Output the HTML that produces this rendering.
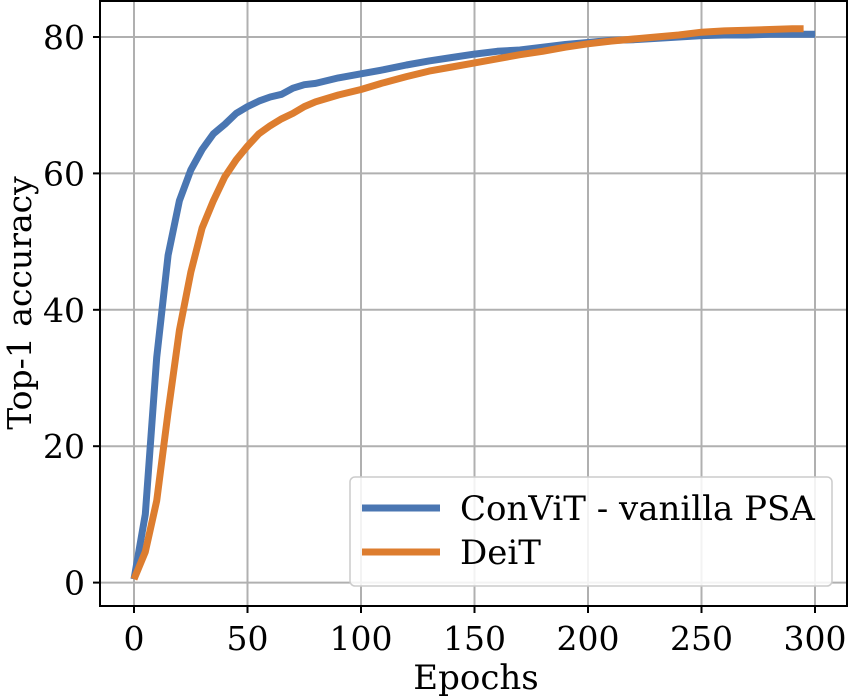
<!DOCTYPE html>
<html><head><meta charset="utf-8"><style>
html,body{margin:0;padding:0;background:#fff;}
svg{display:block;font-family:"DejaVu Serif","Liberation Serif",serif;}
</style></head><body>
<svg id="chart" width="850" height="696" viewBox="0 0 850 696">
<g id="grid"></g>
<g id="series"></g>
<rect x="100" y="1" width="747" height="605" fill="none" stroke="#000" stroke-width="2"/>
<g id="ticks"></g>
<text x="476" y="689" font-size="34" text-anchor="middle">Epochs</text>
<text transform="translate(31,303) rotate(-90)" font-size="33" text-anchor="middle">Top-1 accuracy</text>
<g>
<rect x="350" y="477" width="482" height="109" rx="5" fill="#fff" fill-opacity="0.85" stroke="#ccc" stroke-width="1.5"/>
<line x1="362" y1="508" x2="440" y2="508" stroke="#4a76b2" stroke-width="7"/>
<text x="460" y="520" font-size="34">ConViT - vanilla PSA</text>
<line x1="362" y1="552" x2="440" y2="552" stroke="#dd7d2f" stroke-width="7"/>
<text x="460" y="564" font-size="34">DeiT</text>
</g>
</svg>
<script>
const convitEpochs=[0,5,10,15,20,25,30,35,40,45,50,55,60,65,70,75,80,90,100,110,120,130,140,150,160,170,180,190,200,210,220,230,240,250,260,270,280,290,300];
const convitAcc=[0.5,10,33,48,56,60.5,63.5,65.8,67.2,68.8,69.8,70.6,71.2,71.6,72.5,73,73.2,74,74.6,75.2,75.9,76.5,77,77.5,77.9,78.1,78.5,78.9,79.2,79.5,79.6,79.8,80,80.2,80.3,80.3,80.4,80.4,80.4];
const deitEpochs=[0,5,10,15,20,25,30,35,40,45,50,55,60,65,70,75,80,90,100,110,120,130,140,150,160,170,180,190,200,210,220,230,240,250,260,270,280,290,295];
const deitAcc=[0.5,4.5,12,25,37,45.5,52,56,59.5,62,64,65.8,67,68,68.8,69.8,70.5,71.5,72.3,73.3,74.2,75,75.6,76.2,76.8,77.4,77.9,78.5,79,79.4,79.7,80,80.3,80.7,80.9,81,81.1,81.2,81.2];
const xTicks=[0,50,100,150,200,250,300];
const yTicks=[0,20,40,60,80];
const NS="http://www.w3.org/2000/svg";
const xs=v=>134+v*(815-134)/300;
const ys=v=>582.6-v*(582.6-37)/80;
const grid=document.getElementById('grid'),ticks=document.getElementById('ticks'),series=document.getElementById('series');
function mk(tag,attrs,parent){const e=document.createElementNS(NS,tag);for(const k in attrs)e.setAttribute(k,attrs[k]);parent.appendChild(e);return e;}
xTicks.forEach(t=>{
 const g=mk('line',{x1:xs(t),x2:xs(t),y1:1,y2:606,stroke:'#b0b0b0','stroke-width':2},grid);
 
 
 const tk=mk('line',{x1:xs(t),x2:xs(t),y1:606,y2:613,stroke:'#000','stroke-width':2},ticks);
 
 
 const tx=mk('text',{x:xs(t),y:650,'font-size':33,'text-anchor':'middle'},ticks);
 tx.textContent=t;
 
 
});
yTicks.forEach(t=>{
 const g=mk('line',{x1:100,x2:847,y1:ys(t),y2:ys(t),stroke:'#b0b0b0','stroke-width':2},grid);
 
 
 const tk=mk('line',{x1:93,x2:100,y1:ys(t),y2:ys(t),stroke:'#000','stroke-width':2},ticks);
 
 
 const tx=mk('text',{x:85,y:ys(t)+12,'font-size':33,'text-anchor':'end'},ticks);
 tx.textContent=t;
 
 
});
function line(ex,ac,color,name){
 const d=ex.map((e,i)=>(i?'L':'M')+xs(e).toFixed(1)+','+ys(ac[i]).toFixed(1)).join(' ');
 const p=mk('path',{d:d,fill:'none',stroke:color,'stroke-width':7,'stroke-linejoin':'round'},series);
 
 
}
line(convitEpochs,convitAcc,'#4a76b2','convit-line');
line(deitEpochs,deitAcc,'#dd7d2f','deit-line');
</script>
</body></html>
